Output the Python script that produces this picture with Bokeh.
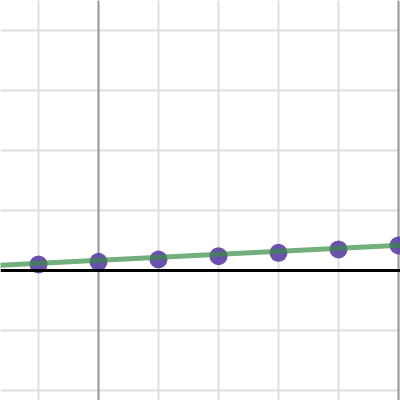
from bokeh.plotting import figure
from bokeh.models import Range1d, Grid, SingleIntervalTicker, Span, ColumnDataSource
from bokeh.embed import file_html
from bokeh.resources import INLINE

# Data
point_x = [4, 5, 6, 7, 8, 9, 10]
point_y = [1.0, 1.45, 1.83, 2.38, 2.95, 3.5, 4.17]
line_x = [3.3, 10.2]
line_y = [0.84, 4.31]

p = figure(width=400, height=400, output_backend="svg", toolbar_location=None,
           x_range=Range1d(3.367, 10.033), y_range=Range1d(-21.67, 45.0),
           x_axis_location=None, y_axis_location=None, min_border=0,
           outline_line_color=None, background_fill_color="white")

# minor grid
p.add_layout(Grid(dimension=0, ticker=SingleIntervalTicker(interval=1),
                  grid_line_color="#dedede", grid_line_width=2))
p.add_layout(Grid(dimension=1, ticker=SingleIntervalTicker(interval=10),
                  grid_line_color="#dedede", grid_line_width=2))
# major grid
p.add_layout(Grid(dimension=0, ticker=SingleIntervalTicker(interval=5),
                  grid_line_color="#9a9a9a", grid_line_width=2))

# x-axis line
p.add_layout(Span(location=0, dimension="width", line_color="black", line_width=3))

pts = ColumnDataSource(dict(x=point_x, y=point_y))
ln = ColumnDataSource(dict(x=line_x, y=line_y))

p.scatter("x", "y", source=pts, size=18, fill_color="#6042a6", fill_alpha=0.92,
          line_color=None)
p.line("x", "y", source=ln, line_color="#388c46", line_alpha=0.7, line_width=5)

open("out.html", "w").write(file_html(p, INLINE))
